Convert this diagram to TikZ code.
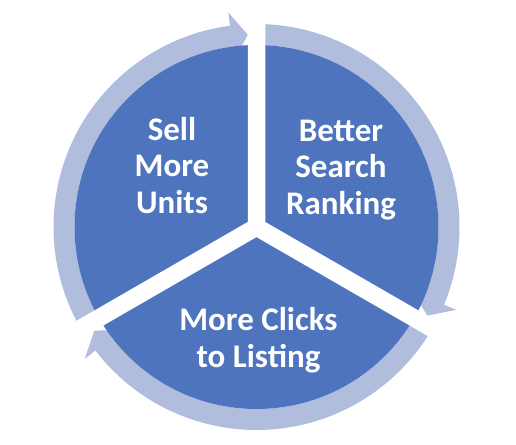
\documentclass[tikz,border=0pt]{standalone}
\usepackage{fontspec}
\setmainfont{Carlito}
\definecolor{piec}{RGB}{78,116,189}
\definecolor{ringc}{RGB}{176,189,221}
\tikzset{
  ringarrow/.style={fill=ringc},
  piefill/.style={fill=piec},
  gapline/.style={draw=white, line width=17.5pt},
  txt/.style={text=white, font=\bfseries\fontsize{33}{36.5}\selectfont, align=center, inner sep=0pt}
}
\begin{document}
\begin{tikzpicture}[x=1pt,y=1pt]
\useasboundingbox (-256.5,-217) rectangle (259.5,227);
% ring arrows (clockwise)
\foreach \a/\b in {210/90, 90/-30, -30/-150} {
  \fill[ringarrow] (\a:182) arc[start angle=\a, end angle={\b+7.5}, radius=182]
     -- ({\b+7.5}:168.5) -- ({\b+2.6}:192.5) -- ({\b+7.5}:216.5) -- ({\b+7.5}:203)
     arc[start angle={\b+7.5}, end angle=\a, radius=203] -- cycle;
}
% pie
\fill[piefill] (0,0) circle[radius=182];
% gaps
\draw[gapline, line join=miter] (90:235) -- (0,0) -- (210:235) (0,0) -- (330:235);
% labels
\node[txt] (sell) at (-84.5,61.5) {Sell\\More\\Units};
\node[txt] (rank) at (84.5,57.2) {Better\\Search\\Ranking};
\node[txt] (clicks) at (2,-113.3) {More Clicks\\to Listing};
\end{tikzpicture}
\end{document}
